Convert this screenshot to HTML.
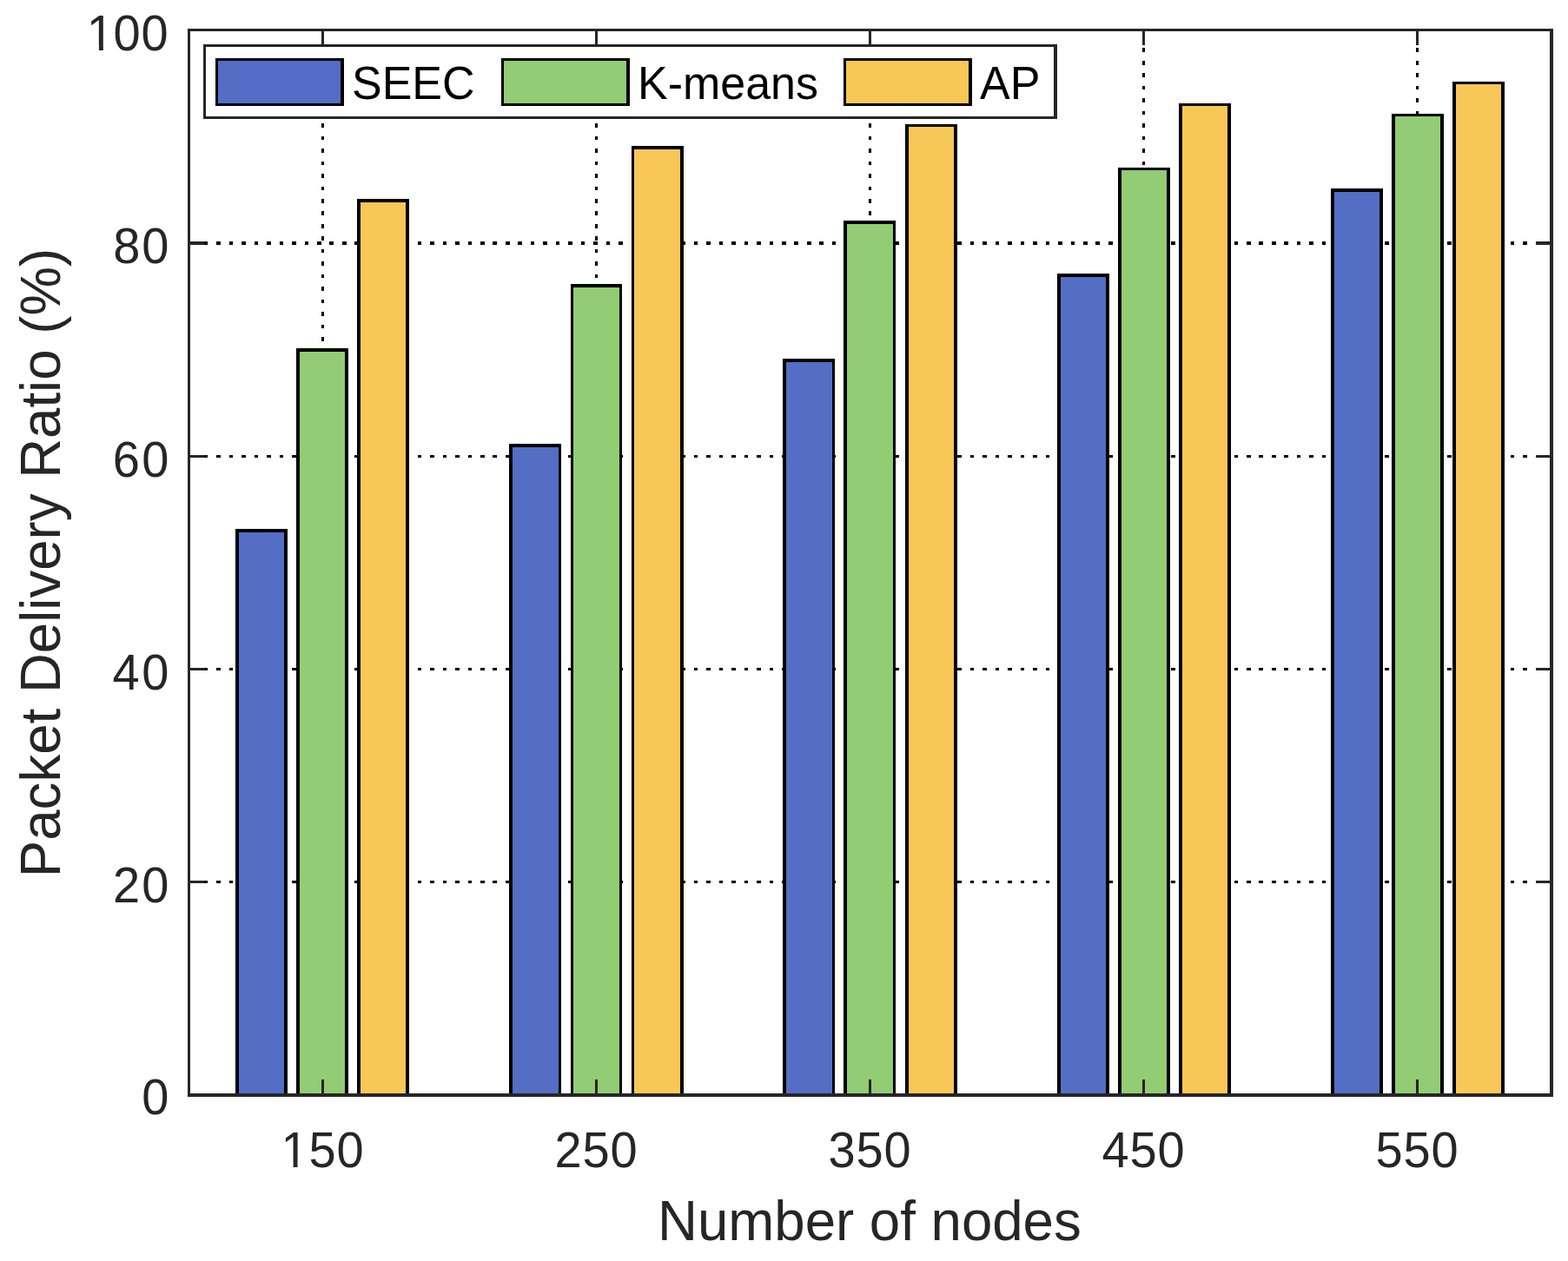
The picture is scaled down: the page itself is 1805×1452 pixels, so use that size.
<!DOCTYPE html><html><head><meta charset="utf-8"><title>Packet Delivery Ratio</title><style>html,body{margin:0;padding:0;background:#fff;overflow:hidden;}svg{display:block;}text{font-family:"Liberation Sans",Arial,Helvetica,sans-serif;}</style></head><body>
<svg width="1805" height="1452" viewBox="0 0 1805 1452">
<rect x="0" y="0" width="1805" height="1452" fill="#fff"/>
<line x1="220.44" y1="1015.5" x2="1784" y2="1015.5" stroke="#000" stroke-width="3" stroke-dasharray="4.6 9.859" shape-rendering="crispEdges"/>
<line x1="220.44" y1="770.5" x2="1784" y2="770.5" stroke="#000" stroke-width="3" stroke-dasharray="4.6 9.859" shape-rendering="crispEdges"/>
<line x1="220.44" y1="525.5" x2="1784" y2="525.5" stroke="#000" stroke-width="3" stroke-dasharray="4.6 9.859" shape-rendering="crispEdges"/>
<line x1="220.44" y1="280.0" x2="1784" y2="280.0" stroke="#000" stroke-width="4" stroke-dasharray="4.6 9.859" shape-rendering="crispEdges"/>
<line x1="371.5" y1="41" x2="371.5" y2="1259" stroke="#000" stroke-width="3" stroke-dasharray="4.6 9.86" shape-rendering="crispEdges"/>
<line x1="686.5" y1="41" x2="686.5" y2="1259" stroke="#000" stroke-width="3" stroke-dasharray="4.6 9.86" shape-rendering="crispEdges"/>
<line x1="1001.5" y1="41" x2="1001.5" y2="1259" stroke="#000" stroke-width="3" stroke-dasharray="4.6 9.86" shape-rendering="crispEdges"/>
<line x1="1316.5" y1="41" x2="1316.5" y2="1259" stroke="#000" stroke-width="3" stroke-dasharray="4.6 9.86" shape-rendering="crispEdges"/>
<line x1="1631.5" y1="41" x2="1631.5" y2="1259" stroke="#000" stroke-width="3" stroke-dasharray="4.6 9.86" shape-rendering="crispEdges"/>
<rect x="271" y="609" width="60" height="653" fill="#000"/>
<rect x="275" y="613" width="52" height="649" fill="#536EC4"/>
<rect x="586" y="511" width="60" height="751" fill="#000"/>
<rect x="590" y="515" width="53" height="747" fill="#536EC4"/>
<rect x="901" y="413" width="60" height="849" fill="#000"/>
<rect x="905" y="417" width="53" height="845" fill="#536EC4"/>
<rect x="1217" y="315" width="60" height="947" fill="#000"/>
<rect x="1221" y="319" width="52" height="943" fill="#536EC4"/>
<rect x="1532" y="217" width="60" height="1045" fill="#000"/>
<rect x="1536" y="221" width="52" height="1041" fill="#536EC4"/>
<rect x="341" y="401" width="60" height="861" fill="#000"/>
<rect x="345" y="405" width="52" height="857" fill="#92CC75"/>
<rect x="657" y="327" width="59" height="935" fill="#000"/>
<rect x="660" y="331" width="53" height="931" fill="#92CC75"/>
<rect x="971" y="254" width="60" height="1008" fill="#000"/>
<rect x="975" y="258" width="53" height="1004" fill="#92CC75"/>
<rect x="1287" y="193" width="60" height="1069" fill="#000"/>
<rect x="1291" y="196" width="52" height="1066" fill="#92CC75"/>
<rect x="1602" y="131" width="60" height="1131" fill="#000"/>
<rect x="1606" y="134" width="52" height="1128" fill="#92CC75"/>
<rect x="411" y="229" width="60" height="1033" fill="#000"/>
<rect x="415" y="233" width="52" height="1029" fill="#F9C757"/>
<rect x="727" y="168" width="60" height="1094" fill="#000"/>
<rect x="730" y="172" width="53" height="1090" fill="#F9C757"/>
<rect x="1042" y="143" width="60" height="1119" fill="#000"/>
<rect x="1046" y="146" width="52" height="1116" fill="#F9C757"/>
<rect x="1357" y="119" width="60" height="1143" fill="#000"/>
<rect x="1361" y="122" width="52" height="1140" fill="#F9C757"/>
<rect x="1672" y="94" width="60" height="1168" fill="#000"/>
<rect x="1676" y="97" width="52" height="1165" fill="#F9C757"/>
<rect x="216" y="33" width="3" height="1230" fill="#262626"/>
<rect x="216" y="33" width="1572" height="3" fill="#262626"/>
<rect x="1784" y="33" width="4" height="1230" fill="#262626"/>
<rect x="216" y="1259" width="1572" height="4" fill="#262626"/>
<rect x="219" y="1014" width="16" height="3" fill="#262626"/>
<rect x="1768" y="1014" width="16" height="3" fill="#262626"/>
<rect x="219" y="769" width="16" height="3" fill="#262626"/>
<rect x="1768" y="769" width="16" height="3" fill="#262626"/>
<rect x="219" y="524" width="16" height="3" fill="#262626"/>
<rect x="1768" y="524" width="16" height="3" fill="#262626"/>
<rect x="219" y="278" width="16" height="4" fill="#262626"/>
<rect x="1768" y="278" width="16" height="4" fill="#262626"/>
<rect x="370.0" y="1243" width="3" height="16" fill="#262626"/>
<rect x="370.0" y="36" width="3" height="16" fill="#262626"/>
<rect x="685.0" y="1243" width="3" height="16" fill="#262626"/>
<rect x="685.0" y="36" width="3" height="16" fill="#262626"/>
<rect x="1000.0" y="1243" width="3" height="16" fill="#262626"/>
<rect x="1000.0" y="36" width="3" height="16" fill="#262626"/>
<rect x="1315.0" y="1243" width="3" height="16" fill="#262626"/>
<rect x="1315.0" y="36" width="3" height="16" fill="#262626"/>
<rect x="1630.0" y="1243" width="3" height="16" fill="#262626"/>
<rect x="1630.0" y="36" width="3" height="16" fill="#262626"/>
<text x="163.23" transform="translate(0,1283.40) scale(1,1.03)" font-size="56.0" fill="#262626">0</text>
<text x="129.93 163.28" transform="translate(0,1038.70) scale(1,1.03)" font-size="56.0" fill="#262626">20</text>
<text x="129.56 163.28" transform="translate(0,793.80) scale(1,1.03)" font-size="56.0" fill="#262626">40</text>
<text x="129.74 163.28" transform="translate(0,548.90) scale(1,1.03)" font-size="56.0" fill="#262626">60</text>
<text x="130.38 163.28" transform="translate(0,302.80) scale(1,1.03)" font-size="56.0" fill="#262626">80</text>
<text x="99.84 130.43 162.43" transform="translate(0,57.50) scale(1,1.03)" font-size="56.0" fill="#262626">100</text>
<rect x="102.94" y="52.39" width="10.98" height="6.51" fill="#fff"/>
<rect x="118.87" y="52.39" width="10.54" height="6.51" fill="#fff"/>
<text x="323.50 355.50 387.50" transform="translate(0,1343.60) scale(1,1.03)" font-size="56.0" fill="#262626">150</text>
<rect x="326.60" y="1338.49" width="10.98" height="6.51" fill="#fff"/>
<rect x="342.53" y="1338.49" width="10.54" height="6.51" fill="#fff"/>
<text x="638.50 670.50 702.50" transform="translate(0,1343.60) scale(1,1.03)" font-size="56.0" fill="#262626">250</text>
<text x="953.50 985.50 1017.50" transform="translate(0,1343.60) scale(1,1.03)" font-size="56.0" fill="#262626">350</text>
<text x="1268.50 1300.50 1332.50" transform="translate(0,1343.60) scale(1,1.03)" font-size="56.0" fill="#262626">450</text>
<text x="1583.50 1615.50 1647.50" transform="translate(0,1343.60) scale(1,1.03)" font-size="56.0" fill="#262626">550</text>
<text transform="translate(1000.9,1428.3) scale(1,1.02)" font-size="63.6" fill="#262626" text-anchor="middle">Number of nodes</text>
<text transform="translate(68.9,648) rotate(-90) scale(1,1.02)" font-size="63.6" fill="#262626" text-anchor="middle">Packet Delivery Ratio (%)</text>
<rect x="234" y="51" width="983" height="86" fill="#262626"/>
<rect x="237" y="54" width="976" height="80" fill="#fff"/>
<rect x="248" y="67" width="148" height="55" fill="#000"/>
<rect x="251" y="70" width="141" height="49" fill="#536EC4"/>
<text transform="translate(405,113.9) scale(1,1.027)" font-size="52" fill="#000">SEEC</text>
<rect x="577" y="67" width="148" height="55" fill="#000"/>
<rect x="580" y="70" width="141" height="49" fill="#92CC75"/>
<text transform="translate(734,113.9) scale(1,1.027)" font-size="52" fill="#000">K-means</text>
<rect x="971" y="67" width="148" height="55" fill="#000"/>
<rect x="974" y="70" width="141" height="49" fill="#F9C757"/>
<text transform="translate(1128,113.9) scale(1,1.027)" font-size="52" fill="#000">AP</text>
</svg></body></html>
